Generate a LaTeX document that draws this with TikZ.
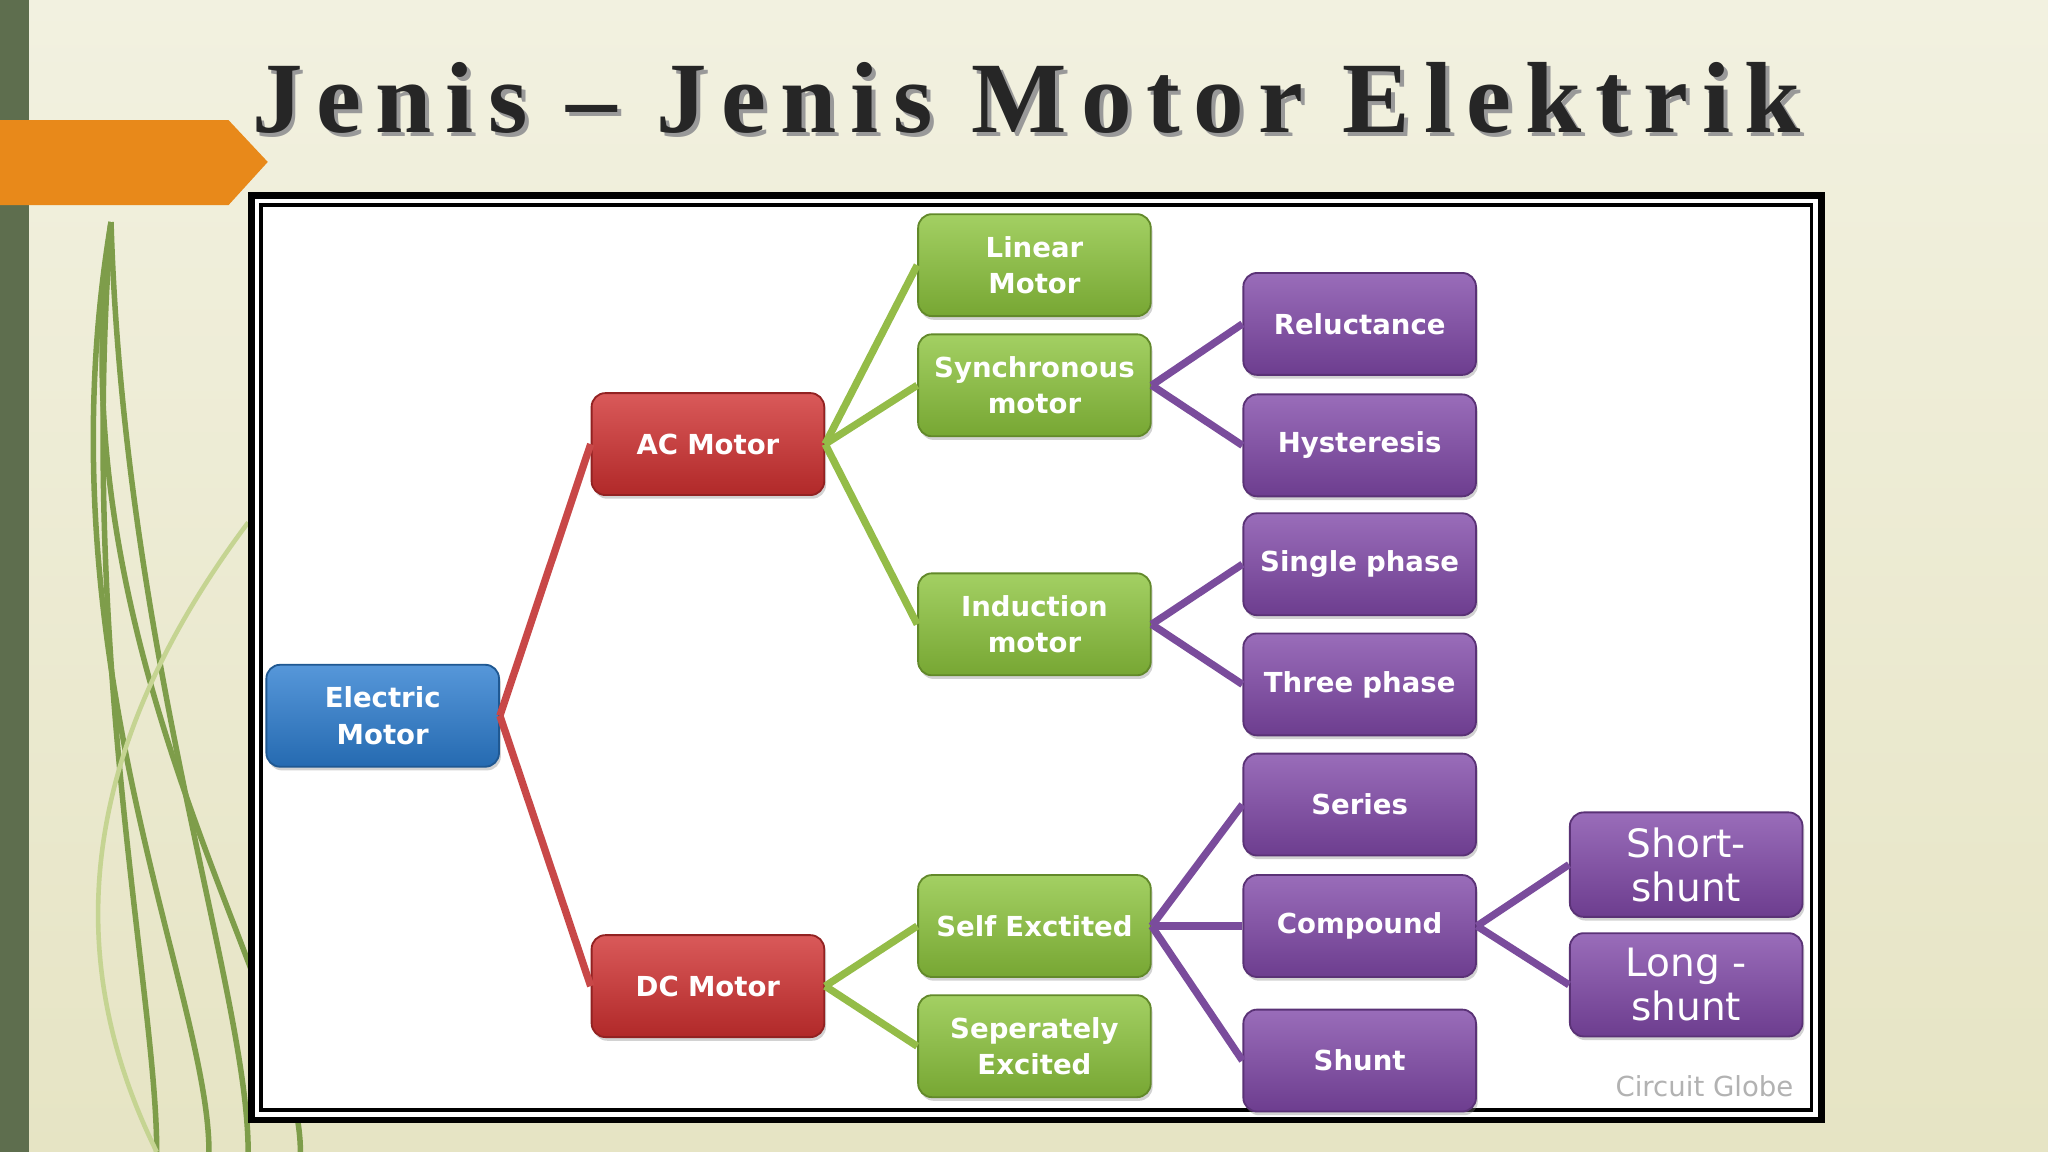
\documentclass[tikz,border=0pt]{standalone}
\usepackage{fontspec}
\setmainfont{Liberation Serif}
\newfontfamily\boxfont{DejaVu Sans}
\newfontfamily\titlefont[LetterSpace=14]{Liberation Serif}
\usetikzlibrary{shadows}
\definecolor{bgtop}{HTML}{F2F1E0}
\definecolor{bgbot}{HTML}{E6E4C4}
\definecolor{barcol}{HTML}{5E6E4E}
\definecolor{orng}{HTML}{E8891A}
\definecolor{bluebox}{HTML}{2C7DD0}
\definecolor{redbox}{HTML}{D03030}
\definecolor{greenbox}{HTML}{8CC43C}
\definecolor{purplebox}{HTML}{8048A8}
\definecolor{redline}{HTML}{C84848}
\definecolor{greenline}{HTML}{94BC48}
\definecolor{purpleline}{HTML}{7A4C9C}
\tikzset{
  mbox/.style={rounded corners=3pt, minimum width=1.78cm, minimum height=0.78cm,
    text width=1.74cm, inner xsep=0pt,
    align=center, text=white, font=\boxfont\bfseries\fontsize{6}{8}\selectfont,
    draw=#1!70!black, line width=0.4pt, top color=#1!80!white, bottom color=#1!85!black,
    drop shadow={opacity=0.35, shadow xshift=0.4pt, shadow yshift=-0.8pt}},
  lbox/.style={mbox=purplebox, font=\boxfont\fontsize{8.5}{9.5}\selectfont},
  link/.style={line width=1.6pt, draw=#1},
  ttl/.style={font=\titlefont\bfseries\fontsize{22}{24}\selectfont},
}
\begin{document}
\begin{tikzpicture}[x=0.01cm,y=-0.01cm]
\shade[top color=bgtop, bottom color=bgbot] (0,0) rectangle (1568,882);
\useasboundingbox (0,0) rectangle (1568,882);
% decorative curves
\foreach \a/\b in {30/160,60/120,95/190,40/230}{
  \draw[greenline!60!barcol, line width=1.2pt] (85,170) .. controls (\a,500) and (\b,760) .. (\b,882);}
\draw[greenline!40!bgbot, line width=1pt] (190,400) .. controls (40,600) and (60,760) .. (120,882);
\fill[barcol] (0,0) rectangle (22,882);
\fill[orng] (0,92) -- (175,92) -- (205,124) -- (175,157) -- (0,157) -- cycle;
% title
\node[ttl, text=black!40] (titleshadow) at (789,78) {Jenis \textendash{} Jenis Motor Elektrik};
\node[ttl, text=black!85] (title) at (786,75) {Jenis \textendash{} Jenis Motor Elektrik};
% frame
\fill[black] (190,147) rectangle (1397,860);
\fill[white] (195,152) rectangle (1392,855);
\draw[black, line width=0.8pt] (200,157) rectangle (1387,850);
% nodes
\node[mbox=bluebox] (em) at (293,548) {Electric\\Motor};
\node[mbox=redbox] (ac) at (542,340) {AC Motor};
\node[mbox=redbox] (dc) at (542,755) {DC Motor};
\node[mbox=greenbox] (lin) at (792,203) {Linear\\Motor};
\node[mbox=greenbox] (syn) at (792,295) {Synchronous\\motor};
\node[mbox=greenbox] (ind) at (792,478) {Induction\\motor};
\node[mbox=greenbox] (self) at (792,709) {Self Exctited};
\node[mbox=greenbox] (sep) at (792,801) {Seperately\\Excited};
\node[mbox=purplebox] (rel) at (1041,248) {Reluctance};
\node[mbox=purplebox] (hys) at (1041,341) {Hysteresis};
\node[mbox=purplebox] (sing) at (1041,432) {Single phase};
\node[mbox=purplebox] (three) at (1041,524) {Three phase};
\node[mbox=purplebox] (ser) at (1041,616) {Series};
\node[mbox=purplebox] (comp) at (1041,709) {Compound};
\node[mbox=purplebox] (shunt) at (1041,812) {Shunt};
\node[lbox] (short) at (1291,662) {Short-\\shunt};
\node[lbox] (long) at (1291,754) {Long -\\shunt};
\node[text=black!30, font=\boxfont\fontsize{6}{7}\selectfont] (cg) at (1305,832) {Circuit Globe};
% connectors
\draw[link=redline] (em.east) -- (ac.west);
\draw[link=redline] (em.east) -- (dc.west);
\foreach \c in {lin,syn,ind} \draw[link=greenline] (ac.east) -- (\c.west);
\foreach \c in {self,sep} \draw[link=greenline] (dc.east) -- (\c.west);
\foreach \p/\c in {syn/rel,syn/hys,ind/sing,ind/three,self/ser,self/comp,self/shunt,comp/short,comp/long}
  \draw[link=purpleline] (\p.east) -- (\c.west);
\end{tikzpicture}
\end{document}
